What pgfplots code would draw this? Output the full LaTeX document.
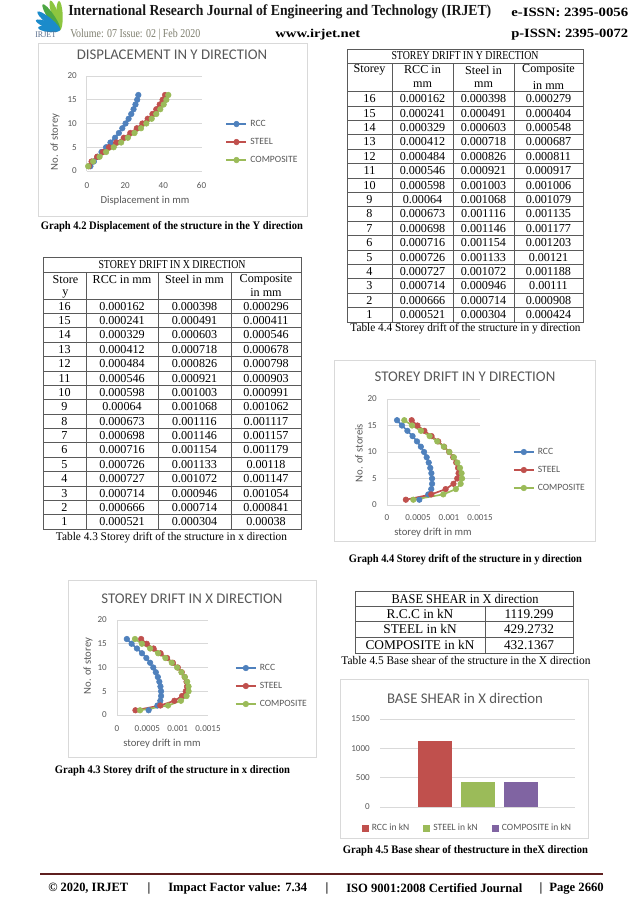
\documentclass[border=0pt]{standalone}
\usepackage{fontspec}
\usepackage{graphicx}
\usepackage{pgfplots}
\usepackage{pgfplotstable}
\pgfplotsset{compat=1.18}
\setmainfont{Liberation Serif}
\newfontfamily\calfont{Carlito}
\newlength\pxu \setlength\pxu{0.75pt}
\newcommand{\fs}[1]{\fontsize{#1}{#1}\selectfont}
\newcommand{\fitw}[3]{\resizebox{#1\pxu}{\height}{\fs{#2}#3}}
\definecolor{rcc}{HTML}{4F81BD}
\definecolor{stl}{HTML}{C0504D}
\definecolor{cmp}{HTML}{9BBB59}
\definecolor{pur}{HTML}{8064A2}
\definecolor{grd}{HTML}{D9D9D9}
\definecolor{txg}{HTML}{595959}
\definecolor{maroon}{HTML}{5E1F1F}
\definecolor{tline}{HTML}{5A5A5A}
\definecolor{volc}{HTML}{7F7F6F}
\definecolor{lgreen}{HTML}{8DC63F}
\definecolor{dgreen}{HTML}{4DA744}
\definecolor{lblue}{HTML}{1B8BCB}
\definecolor{logot}{HTML}{5A6E8C}

\pgfplotstableread{
s rcc steel comp
16 26.9 40.9 42.6
15 26.3 39.6 41.6
14 25.4 38.1 40.2
13 24.4 36.3 38.4
12 23.2 34.3 36.3
11 21.8 31.8 33.9
10 20.2 29.0 31.1
9 18.5 26.1 28.3
8 16.7 22.7 24.9
7 14.7 19.3 21.4
6 12.3 15.3 17.9
5 10.0 11.5 14.0
4 7.6 8.3 10.0
3 5.6 5.3 6.6
2 3.6 2.4 3.2
1 1.8 1.0 0.6
}\dispY

\pgfplotstableread{
s rcc steel comp
16 0.000162 0.000398 0.000296
15 0.000241 0.000491 0.000411
14 0.000329 0.000603 0.000546
13 0.000412 0.000718 0.000678
12 0.000484 0.000826 0.000798
11 0.000546 0.000921 0.000903
10 0.000598 0.001003 0.000991
9 0.00064 0.001068 0.001062
8 0.000673 0.001116 0.001117
7 0.000698 0.001146 0.001157
6 0.000716 0.001154 0.001179
5 0.000726 0.001133 0.00118
4 0.000727 0.001072 0.001147
3 0.000714 0.000946 0.001054
2 0.000666 0.000714 0.000841
1 0.000521 0.000304 0.00038
}\driftX

\pgfplotstableread{
s rcc steel comp
16 0.000162 0.000398 0.000279
15 0.000241 0.000491 0.000404
14 0.000329 0.000603 0.000548
13 0.000412 0.000718 0.000687
12 0.000484 0.000826 0.000811
11 0.000546 0.000921 0.000917
10 0.000598 0.001003 0.001006
9 0.00064 0.001068 0.001079
8 0.000673 0.001116 0.001135
7 0.000698 0.001146 0.001177
6 0.000716 0.001154 0.001203
5 0.000726 0.001133 0.00121
4 0.000727 0.001072 0.001188
3 0.000714 0.000946 0.00111
2 0.000666 0.000714 0.000908
1 0.000521 0.000304 0.000424
}\driftY

\pgfplotsset{
 excel/.style={
  scale only axis, anchor=south west, clip=false,
  axis x line=bottom, axis y line=left,
  axis line style={draw=grd, line width=0.75pt, -},
  ymajorgrids, grid style={draw=grd, line width=0.75pt},
  major tick length=0pt, enlargelimits=false,
  tick label style={font=\calfont\fs{6.8}, text=txg},
  /pgf/number format/assume math mode=true,
  yticklabel style={anchor=east, inner sep=0pt, xshift=-7.5pt},
  ymin=0, ymax=20, ytick={0,5,10,15,20},
  legend cell align=left,
  legend image code/.code={\draw[mark repeat=2,mark phase=2,##1] plot coordinates {(0pt,0pt) (7.5pt,0pt) (15pt,0pt)};},
  legend style={anchor=west, draw=none, fill=none, inner sep=0pt, outer sep=0pt, row sep=0pt,
     font=\calfont\fs{7.2}, text=txg, nodes={inner sep=0pt, minimum height=13.5pt},
     /tikz/every odd column/.append style={column sep=2.3pt}},
 },
 drift/.style={excel, xmin=0, xmax=0.0015, xtick={0,0.0005,0.001,0.0015},
   xticklabels={0,0.0005,0.001,0.0015}, scaled x ticks=false},
 prcc/.style={rcc, line width=1.25pt, mark=*, mark size=2.1pt, mark options={fill=rcc, draw=rcc, line width=0.4pt}},
 pstl/.style={stl, line width=1.25pt, mark=*, mark size=2.1pt, mark options={fill=stl, draw=stl, line width=0.4pt}},
 pcmp/.style={cmp, line width=1.25pt, mark=*, mark size=2.1pt, mark options={fill=cmp, draw=cmp, line width=0.4pt}},
}

\begin{document}
\begin{tikzpicture}
\begin{scope}[x=0.75pt,y=-0.75pt]
\fill[white] (0,0) rectangle (638,903);
% chart frames
\draw[grd, line width=0.75pt] (38,43) rectangle (307,216);
\draw[grd, line width=0.75pt] (334,360) rectangle (595,541);
\draw[grd, line width=0.75pt] (68,580) rectangle (316,757);
\draw[grd, line width=0.75pt] (340,679) rectangle (588,838);
\coordinate (A1) at (87,171);
\coordinate (A44) at (387,505);
\coordinate (A43) at (117,715);
\coordinate (A5) at (380,807);
\end{scope}

% logo
\begin{scope}[shift={(45pt,-22.5pt)}]
 \foreach \a/\c/\l in {92/lgreen/29, 108/lgreen/31, 124/dgreen/31, 141/lblue/29, 158/lblue/26, 174/lblue/22} {
   \fill[\c, rotate=\a] ({\l*0.375pt},0) ellipse ({\l*0.375pt} and 2.4pt);
 }
\end{scope}

% Chart 4.2
\begin{axis}[excel, at={(A1)}, width=85.875pt, height=71.25pt,
  xmin=0, xmax=60, xtick={0,20,40,60},
  xticklabel style={anchor=north, inner sep=0pt, yshift=-8.3pt},
  legend style={at={(1.211,0.305)}}]
\addplot[prcc] table[x=rcc,y=s]{\dispY};
\addlegendentry{RCC}
\addplot[pstl] table[x=steel,y=s]{\dispY};
\addlegendentry{STEEL}
\addplot[pcmp] table[x=comp,y=s]{\dispY};
\addlegendentry{COMPOSITE}
\end{axis}

% Chart 4.4
\begin{axis}[drift, at={(A44)}, width=69.75pt, height=79.5pt,
  xticklabel style={anchor=north, inner sep=0pt, yshift=-7.3pt},
  legend style={at={(1.355,0.330)}}]
\addplot[prcc] table[x=rcc,y=s]{\driftY};
\addlegendentry{RCC}
\addplot[pstl] table[x=steel,y=s]{\driftY};
\addlegendentry{STEEL}
\addplot[pcmp] table[x=comp,y=s]{\driftY};
\addlegendentry{COMPOSITE}
\end{axis}

% Chart 4.3
\begin{axis}[drift, at={(A43)}, width=68.25pt, height=71.25pt,
  xticklabel style={anchor=north, inner sep=0pt, yshift=-8.1pt},
  legend style={at={(1.297,0.305)}}]
\addplot[prcc] table[x=rcc,y=s]{\driftX};
\addlegendentry{RCC}
\addplot[pstl] table[x=steel,y=s]{\driftX};
\addlegendentry{STEEL}
\addplot[pcmp] table[x=comp,y=s]{\driftX};
\addlegendentry{COMPOSITE}
\end{axis}

% Chart 4.5
\begin{axis}[scale only axis, anchor=south west, at={(A5)}, width=146.25pt, height=66pt,
  xmin=0, xmax=195, ymin=0, ymax=1500, ytick={0,500,1000,1500}, xtick=\empty,
  axis x line=bottom, axis y line=left, axis line style={draw=none},
  ymajorgrids, grid style={draw=grd, line width=0.75pt}, major tick length=0pt,
  enlargelimits=false, clip=false,
  tick label style={font=\calfont\fs{6.8}, text=txg},
  /pgf/number format/assume math mode=true,
  /pgf/number format/1000 sep={},
  yticklabel style={anchor=east, inner sep=0pt, xshift=-7.5pt},
  legend columns=3,
  legend image code/.code={\fill[#1] (0pt,-2.63pt) rectangle (5.25pt,2.63pt);},
  legend style={at={(0.4436,-0.2386)}, anchor=center, draw=none, fill=none, inner sep=0pt,
    font=\calfont\fs{7.2}, text=txg, nodes={inner sep=0pt},
    /tikz/every odd column/.append style={column sep=2.25pt},
    /tikz/every even column/.append style={column sep=10.5pt}},
]
\addplot[ybar, bar width=25.5pt, bar shift=0pt, fill=stl, draw=none] coordinates {(55,1119.299)};
\addlegendentry{RCC in kN}
\addplot[ybar, bar width=25.5pt, bar shift=0pt, fill=cmp, draw=none] coordinates {(97.5,429.2732)};
\addlegendentry{STEEL in kN}
\addplot[ybar, bar width=25.5pt, bar shift=0pt, fill=pur, draw=none] coordinates {(141,432.1367)};
\addlegendentry{COMPOSITE in kN}
\end{axis}

\begin{scope}[x=0.75pt,y=-0.75pt, every node/.style={inner sep=0pt}]
% header
\node[anchor=west, text=black!90] at (68,12) {\fitw{423}{11.5}{\bfseries International Research Journal of Engineering and Technology (IRJET)}};
\node[anchor=west] at (511,12) {\fitw{117}{9.5}{\bfseries e-ISSN: 2395-0056}};
\node[anchor=west, text=volc] at (70,35) {\fitw{130}{9}{Volume: 07 Issue: 02 | Feb 2020}};
\node[anchor=west] at (275,35) {\fitw{85}{9}{\bfseries www.irjet.net}};
\node[anchor=west] at (511,35) {\fitw{117}{9.5}{\bfseries p-ISSN: 2395-0072}};
\node[anchor=west, text=logot] at (35,35) {\fitw{21}{6.5}{IRJET}};

% chart texts
\node[font=\calfont\fs{11.1}, text=txg] at (172,55) {DISPLACEMENT IN Y DIRECTION};
\node[font=\calfont\fs{8}, text=txg] at (145,201) {Displacement in mm};
\node[font=\calfont\fs{8}, text=txg, rotate=90] at (55,142) {No. of storey};

\node[font=\calfont\fs{11.1}, text=txg] at (465,377) {STOREY DRIFT IN Y DIRECTION};
\node[font=\calfont\fs{8}, text=txg] at (433,533) {storey drift in mm};
\node[font=\calfont\fs{8}, text=txg, rotate=90] at (359,453) {No. of storeis};

\node[font=\calfont\fs{11.1}, text=txg] at (192,599) {STOREY DRIFT IN X DIRECTION};
\node[font=\calfont\fs{8}, text=txg] at (162,744) {storey drift in mm};
\node[font=\calfont\fs{8}, text=txg, rotate=90] at (88,666) {No. of storey};

\node[font=\calfont\fs{11.1}, text=txg] at (465,698) {BASE SHEAR in X direction};

% captions
\node at (172,227) {\fitw{262}{8.6}{\bfseries Graph 4.2 Displacement of the structure in the Y direction}};
\node at (171.5,537.5) {\fitw{231}{8.8}{Table 4.3 Storey drift of the structure in x direction}};
\node at (465.5,329) {\fitw{230}{8.8}{Table 4.4 Storey drift of the structure in y direction}};
\node at (465.5,560) {\fitw{233}{8.6}{\bfseries Graph 4.4 Storey drift of the structure in y direction}};
\node at (172.5,771) {\fitw{235}{8.6}{\bfseries Graph 4.3 Storey drift of the structure in x direction}};
\node at (466,660) {\fitw{249}{8.8}{Table 4.5 Base shear of the structure in the X direction}};
\node at (465.5,851) {\fitw{245}{8.6}{\bfseries Graph 4.5 Base shear of thestructure in theX direction}};

% Table 4.3
\begin{scope}[tline, line width=0.5pt]
\draw (43,257) rectangle (301,529);
\draw (43,272) -- (301,272) (43,299) -- (301,299);
\foreach \k in {1,...,15} \draw (43,{299+14.375*\k}) -- (301,{299+14.375*\k});
\foreach \xx in {86,158,231} \draw (\xx,272) -- (\xx,529);
\end{scope}
\begin{scope}[every node/.style={inner sep=0pt, font=\fs{9.1}}]
\node at (172,264.5) {\fitw{147}{9.1}{STOREY DRIFT IN X DIRECTION}};
\node at (65.5,279.5) {Store}; \node[anchor=base] at (65.5,295.5) {y};
\node at (122,279.5) {RCC in mm}; \node at (194.5,279.5) {Steel in mm};
\node at (266,279.5) {Composite}; \node at (266,292) {in mm};
\foreach \s/\a/\b/\c [count=\i] in {16/0.000162/0.000398/0.000296, 15/0.000241/0.000491/0.000411,
  14/0.000329/0.000603/0.000546, 13/0.000412/0.000718/0.000678, 12/0.000484/0.000826/0.000798,
  11/0.000546/0.000921/0.000903, 10/0.000598/0.001003/0.000991, 9/0.00064/0.001068/0.001062,
  8/0.000673/0.001116/0.001117, 7/0.000698/0.001146/0.001157, 6/0.000716/0.001154/0.001179,
  5/0.000726/0.001133/0.00118, 4/0.000727/0.001072/0.001147, 3/0.000714/0.000946/0.001054,
  2/0.000666/0.000714/0.000841, 1/0.000521/0.000304/0.00038} {
  \pgfmathsetmacro\yy{299+14.375*(\i-0.5)}
  \node at (64.5,\yy) {\s}; \node at (122,\yy) {\a}; \node at (194.5,\yy) {\b}; \node at (266,\yy) {\c};
}
\end{scope}

% Table 4.4
\begin{scope}[tline, line width=0.5pt]
\draw (347,49) rectangle (583,322);
\draw (347,63) -- (583,63) (347,91.5) -- (583,91.5);
\foreach \k in {1,...,15} \draw (347,{91.5+14.4*\k}) -- (583,{91.5+14.4*\k});
\foreach \xx in {392,453,514} \draw (\xx,63) -- (\xx,322);
\end{scope}
\begin{scope}[every node/.style={inner sep=0pt, font=\fs{9.1}}]
\node at (465,56) {\fitw{147}{9.1}{STOREY DRIFT IN Y DIRECTION}};
\node at (369.5,70) {Storey};
\node at (422.5,70) {RCC in}; \node at (422.5,85) {mm};
\node at (483.5,70) {Steel in}; \node at (483.5,85) {mm};
\node at (548.5,70) {Composite}; \node at (548.5,85) {in mm};
\foreach \s/\a/\b/\c [count=\i] in {16/0.000162/0.000398/0.000279, 15/0.000241/0.000491/0.000404,
  14/0.000329/0.000603/0.000548, 13/0.000412/0.000718/0.000687, 12/0.000484/0.000826/0.000811,
  11/0.000546/0.000921/0.000917, 10/0.000598/0.001003/0.001006, 9/0.00064/0.001068/0.001079,
  8/0.000673/0.001116/0.001135, 7/0.000698/0.001146/0.001177, 6/0.000716/0.001154/0.001203,
  5/0.000726/0.001133/0.00121, 4/0.000727/0.001072/0.001188, 3/0.000714/0.000946/0.00111,
  2/0.000666/0.000714/0.000908, 1/0.000521/0.000304/0.000424} {
  \pgfmathsetmacro\yy{91.5+14.4*(\i-0.5)}
  \node at (369.5,\yy) {\s}; \node at (422.5,\yy) {\a}; \node at (483.5,\yy) {\b}; \node at (548.5,\yy) {\c};
}
\end{scope}

% Table 4.5
\begin{scope}[tline, line width=0.5pt]
\draw (355,591) rectangle (573,653);
\draw (355,606) -- (573,606) (355,621.5) -- (573,621.5) (355,637) -- (573,637);
\draw (485,606) -- (485,653);
\end{scope}
\begin{scope}[every node/.style={inner sep=0pt, font=\fs{10}}]
\node at (465,598.5) {\fitw{147}{10}{BASE SHEAR in X direction}};
\node at (420,614) {R.C.C in kN}; \node at (529,614) {1119.299};
\node at (420,629) {STEEL in kN}; \node at (529,629) {429.2732};
\node at (420,645) {COMPOSITE in kN}; \node at (529,645) {432.1367};
\end{scope}

% footer
\draw[maroon, line width=1.9pt] (40,874) -- (603,874);
\node[anchor=west] at (48,888) {\fitw{80}{9.5}{\bfseries \textcopyright{} 2020, IRJET}};
\node at (149,888) {\fs{9.5}\bfseries |};
\node[anchor=west] at (168,888) {\fitw{139}{9.5}{\bfseries Impact Factor value: 7.34}};
\node at (327,888) {\fs{9.5}\bfseries |};
\node[anchor=west] at (346,888) {\fitw{176}{9.5}{\bfseries ISO 9001:2008 Certified Journal}};
\node at (541,888) {\fs{9.5}\bfseries |};
\node[anchor=base west] at (549,891.3) {\fs{9.5}\bfseries Page 2660};
\end{scope}

\pgfresetboundingbox
\path[use as bounding box] (0pt,0pt) rectangle (478.5pt,-677.25pt);
\end{tikzpicture}
\end{document}
